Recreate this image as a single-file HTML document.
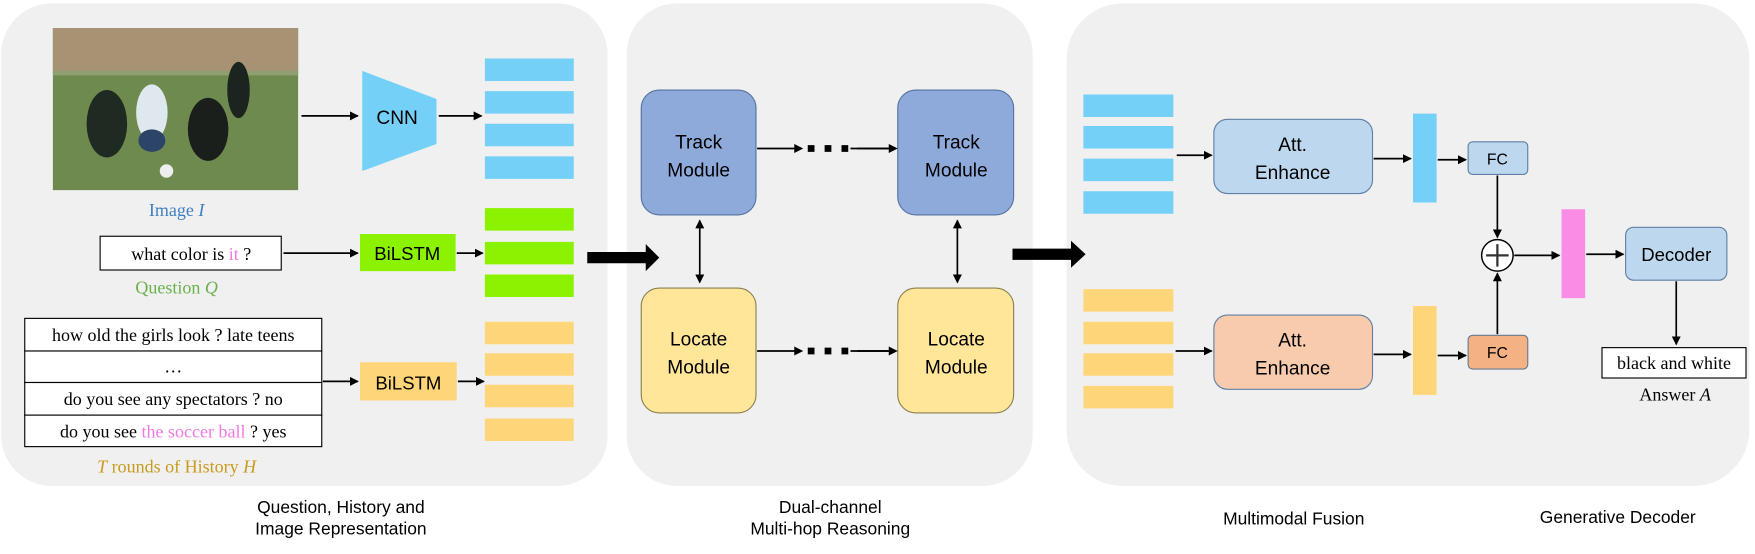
<!DOCTYPE html>
<html><head><meta charset="utf-8"><style>html,body{margin:0;padding:0;background:#fff}svg{display:block}</style></head>
<body>
<svg width="1755" height="554" viewBox="0 0 1560 492.44" xmlns="http://www.w3.org/2000/svg">
<defs>
<marker id="a" markerWidth="8" markerHeight="8" refX="7" refY="4" orient="auto" markerUnits="userSpaceOnUse"><path d="M0,0 L8,4 L0,8 z" fill="#000"/></marker>
<marker id="b" markerWidth="8" markerHeight="8" refX="1" refY="4" orient="auto" markerUnits="userSpaceOnUse"><path d="M8,0 L0,4 L8,8 z" fill="#000"/></marker>
</defs>
<rect width="1560" height="492.44" fill="#fff"/>
<!-- panels -->
<rect x="1" y="3" width="539" height="429" rx="45" fill="#f0f0f0"/>
<rect x="557" y="3" width="361" height="429" rx="45" fill="#f0f0f0"/>
<rect x="948" y="3" width="607" height="429" rx="50" fill="#f0f0f0"/>
<g font-family="Liberation Sans, sans-serif" font-size="15.5" text-anchor="middle" fill="#000">
<text x="303" y="456">Question, History and</text><text x="303" y="475">Image Representation</text>
<text x="738" y="456">Dual-channel</text><text x="738" y="475">Multi-hop Reasoning</text>
<text x="1150" y="466">Multimodal Fusion</text>
<text x="1438" y="465">Generative Decoder</text>
</g>
<!-- photo -->
<rect x="47" y="25" width="218" height="144" fill="#6f8a4e"/>
<rect x="47" y="25" width="218" height="40" fill="#a89274"/>
<rect x="47" y="63" width="218" height="4" fill="#8fa070"/>
<ellipse cx="95" cy="110" rx="18" ry="30" fill="#1e2a22"/>
<ellipse cx="135" cy="100" rx="14" ry="25" fill="#dfe8ef"/>
<ellipse cx="135" cy="125" rx="12" ry="10" fill="#2c4468"/>
<ellipse cx="185" cy="115" rx="18" ry="28" fill="#1a1f1c"/>
<ellipse cx="212" cy="80" rx="10" ry="25" fill="#1c2420"/>
<circle cx="148" cy="152" r="6" fill="#eee"/>
<!-- CNN -->
<line x1="268" y1="103" x2="318" y2="103" stroke="#000" stroke-width="1.5" marker-end="url(#a)"/>
<polygon points="322,63 388,88 388,128 322,152" fill="#75d0f7"/>
<text x="353" y="110" font-family="Liberation Sans, sans-serif" font-size="17" text-anchor="middle">CNN</text>
<line x1="390" y1="103" x2="428" y2="103" stroke="#000" stroke-width="1.5" marker-end="url(#a)"/>
<g fill="#75d0f7"><rect x="431" y="52" width="79" height="20"/><rect x="431" y="81" width="79" height="20"/><rect x="431" y="110" width="79" height="20"/><rect x="431" y="139" width="79" height="20"/></g>
<text x="157" y="192" font-family="Liberation Serif, serif" font-size="16" text-anchor="middle" fill="#3f7fbf">Image <tspan font-style="italic">I</tspan></text>
<!-- question -->
<rect x="89" y="210" width="161" height="30" fill="#fff" stroke="#000" stroke-width="1"/>
<text x="170" y="231" font-family="Liberation Serif, serif" font-size="16" text-anchor="middle">what color is <tspan fill="#f07ae0">it</tspan> ?</text>
<line x1="252" y1="225" x2="318" y2="225" stroke="#000" stroke-width="1.5" marker-end="url(#a)"/>
<rect x="320" y="208" width="85" height="33" fill="#8bf300"/>
<text x="362" y="231" font-family="Liberation Sans, sans-serif" font-size="16.5" text-anchor="middle">BiLSTM</text>
<line x1="406" y1="225" x2="429" y2="225" stroke="#000" stroke-width="1.5" marker-end="url(#a)"/>
<g fill="#8bf300"><rect x="431" y="185" width="79" height="20"/><rect x="431" y="215" width="79" height="20"/><rect x="431" y="244" width="79" height="20"/></g>
<text x="157" y="261" font-family="Liberation Serif, serif" font-size="16" text-anchor="middle" fill="#6ab04c">Question <tspan font-style="italic">Q</tspan></text>
<!-- history -->
<g fill="#fff" stroke="#000" stroke-width="1">
<rect x="22" y="283" width="264" height="29"/><rect x="22" y="312" width="264" height="28"/><rect x="22" y="340" width="264" height="29"/><rect x="22" y="369" width="264" height="28"/></g>
<g font-family="Liberation Serif, serif" font-size="16" text-anchor="middle">
<text x="154" y="303">how old the girls look ? late teens</text>
<text x="154" y="331">…</text>
<text x="154" y="360">do you see any spectators ? no</text>
<text x="154" y="389">do you see <tspan fill="#f07ae0">the soccer ball</tspan> ? yes</text>
</g>
<text x="157" y="420" font-family="Liberation Serif, serif" font-size="16" text-anchor="middle" fill="#c89a1c"><tspan font-style="italic">T</tspan> rounds of History <tspan font-style="italic">H</tspan></text>
<line x1="287" y1="339" x2="318" y2="339" stroke="#000" stroke-width="1.5" marker-end="url(#a)"/>
<rect x="320" y="322" width="86" height="34" fill="#ffd579"/>
<text x="363" y="346" font-family="Liberation Sans, sans-serif" font-size="16.5" text-anchor="middle">BiLSTM</text>
<line x1="407" y1="339" x2="430" y2="339" stroke="#000" stroke-width="1.5" marker-end="url(#a)"/>
<g fill="#ffd579"><rect x="431" y="286" width="79" height="20"/><rect x="431" y="314" width="79" height="20"/><rect x="431" y="342" width="79" height="20"/><rect x="431" y="372" width="79" height="20"/></g>
<!-- big arrows -->
<polygon points="522,224 574,224 574,217 586,229 574,241 574,234 522,234" fill="#000"/>
<polygon points="900,221 952,221 952,214 965,226 952,238 952,231 900,231" fill="#000"/>
<!-- modules -->
<g font-family="Liberation Sans, sans-serif" font-size="17" text-anchor="middle">
<rect x="570" y="80" width="102" height="111" rx="16" fill="#8eaadb" stroke="#5572a0" stroke-width="1"/>
<text x="621" y="132">Track</text><text x="621" y="157">Module</text>
<rect x="798" y="80" width="103" height="111" rx="16" fill="#8eaadb" stroke="#5572a0" stroke-width="1"/>
<text x="850" y="132">Track</text><text x="850" y="157">Module</text>
<rect x="570" y="256" width="102" height="111" rx="16" fill="#ffe699" stroke="#8a8050" stroke-width="1"/>
<text x="621" y="307">Locate</text><text x="621" y="332">Module</text>
<rect x="798" y="256" width="103" height="111" rx="16" fill="#ffe699" stroke="#8a8050" stroke-width="1"/>
<text x="850" y="307">Locate</text><text x="850" y="332">Module</text>
</g>
<g stroke="#000" stroke-width="1.5">
<line x1="673" y1="132" x2="796" y2="132" stroke-dasharray="0"/>
<line x1="673" y1="312" x2="796" y2="312"/>
<line x1="622" y1="196" x2="622" y2="251" marker-start="url(#b)" marker-end="url(#a)"/>
<line x1="851" y1="196" x2="851" y2="251" marker-start="url(#b)" marker-end="url(#a)"/>
</g>
<g fill="#f0f0f0"><rect x="712" y="128" width="50" height="9"/><rect x="712" y="308" width="50" height="9"/></g>
<g fill="#000">
<path d="M706,128 L714,132 L706,136z"/><rect x="718" y="129" width="6" height="6"/><rect x="733" y="129" width="6" height="6"/><rect x="748" y="129" width="6" height="6"/><line/>
<path d="M706,308 L714,312 L706,316z"/><rect x="718" y="309" width="6" height="6"/><rect x="733" y="309" width="6" height="6"/><rect x="748" y="309" width="6" height="6"/>
<path d="M790,128 L798,132 L790,136z"/><path d="M790,308 L798,312 L790,316z"/>
</g>
<g stroke="#000" stroke-width="1.5"><line x1="756" y1="132" x2="790" y2="132"/><line x1="756" y1="312" x2="790" y2="312"/></g>
<!-- fusion -->
<g fill="#75d0f7"><rect x="963" y="84" width="80" height="20"/><rect x="963" y="112" width="80" height="20"/><rect x="963" y="141" width="80" height="20"/><rect x="963" y="170" width="80" height="20"/></g>
<g fill="#ffd579"><rect x="963" y="257" width="80" height="20"/><rect x="963" y="286" width="80" height="20"/><rect x="963" y="314" width="80" height="20"/><rect x="963" y="343" width="80" height="20"/></g>
<g font-family="Liberation Sans, sans-serif" font-size="17" text-anchor="middle">
<rect x="1079" y="106" width="141" height="66" rx="12" fill="#bdd7ee" stroke="#5f7fa8" stroke-width="1"/>
<text x="1149" y="134">Att.</text><text x="1149" y="159">Enhance</text>
<rect x="1079" y="280" width="141" height="66" rx="12" fill="#f8cbad" stroke="#5f7fa8" stroke-width="1"/>
<text x="1149" y="308">Att.</text><text x="1149" y="333">Enhance</text>
</g>
<rect x="1256" y="101" width="21" height="79" fill="#75d0f7"/>
<rect x="1256" y="272" width="21" height="79" fill="#ffd579"/>
<g font-family="Liberation Sans, sans-serif" font-size="14" text-anchor="middle">
<rect x="1305" y="126" width="53" height="29" rx="4" fill="#bdd7ee" stroke="#5f7fa8" stroke-width="1"/>
<text x="1331" y="146">FC</text>
<rect x="1305" y="298" width="53" height="30" rx="4" fill="#f4b183" stroke="#6a7a90" stroke-width="1"/>
<text x="1331" y="318">FC</text>
</g>
<rect x="1388" y="186" width="21" height="79" fill="#fb8ce6"/>
<rect x="1445" y="202" width="90" height="47" rx="7" fill="#bdd7ee" stroke="#5f7fa8" stroke-width="1"/>
<text x="1490" y="232" font-family="Liberation Sans, sans-serif" font-size="16.5" text-anchor="middle">Decoder</text>
<circle cx="1331" cy="227" r="14" fill="#fff" stroke="#000" stroke-width="1.3"/>
<g stroke="#333" stroke-width="2"><line x1="1321" y1="227" x2="1341" y2="227"/><line x1="1331" y1="217" x2="1331" y2="237"/></g>
<g stroke="#000" stroke-width="1.5">
<line x1="1046" y1="138" x2="1077" y2="138" marker-end="url(#a)"/>
<line x1="1045" y1="312" x2="1077" y2="312" marker-end="url(#a)"/>
<line x1="1221" y1="141" x2="1254" y2="141" marker-end="url(#a)"/>
<line x1="1221" y1="315" x2="1254" y2="315" marker-end="url(#a)"/>
<line x1="1278" y1="142" x2="1303" y2="142" marker-end="url(#a)"/>
<line x1="1278" y1="316" x2="1303" y2="316" marker-end="url(#a)"/>
<line x1="1331" y1="156" x2="1331" y2="211" marker-end="url(#a)"/>
<line x1="1331" y1="297" x2="1331" y2="243" marker-end="url(#a)"/>
<line x1="1346" y1="227" x2="1386" y2="227" marker-end="url(#a)"/>
<line x1="1410" y1="226" x2="1443" y2="226" marker-end="url(#a)"/>
<line x1="1490" y1="250" x2="1490" y2="306" marker-end="url(#a)"/>
</g>
<rect x="1424" y="309" width="128" height="27" fill="#fff" stroke="#000" stroke-width="1"/>
<text x="1488" y="328" font-family="Liberation Serif, serif" font-size="16" text-anchor="middle">black and white</text>
<text x="1489" y="356" font-family="Liberation Serif, serif" font-size="16" text-anchor="middle">Answer <tspan font-style="italic">A</tspan></text>
</svg>
</body></html>
